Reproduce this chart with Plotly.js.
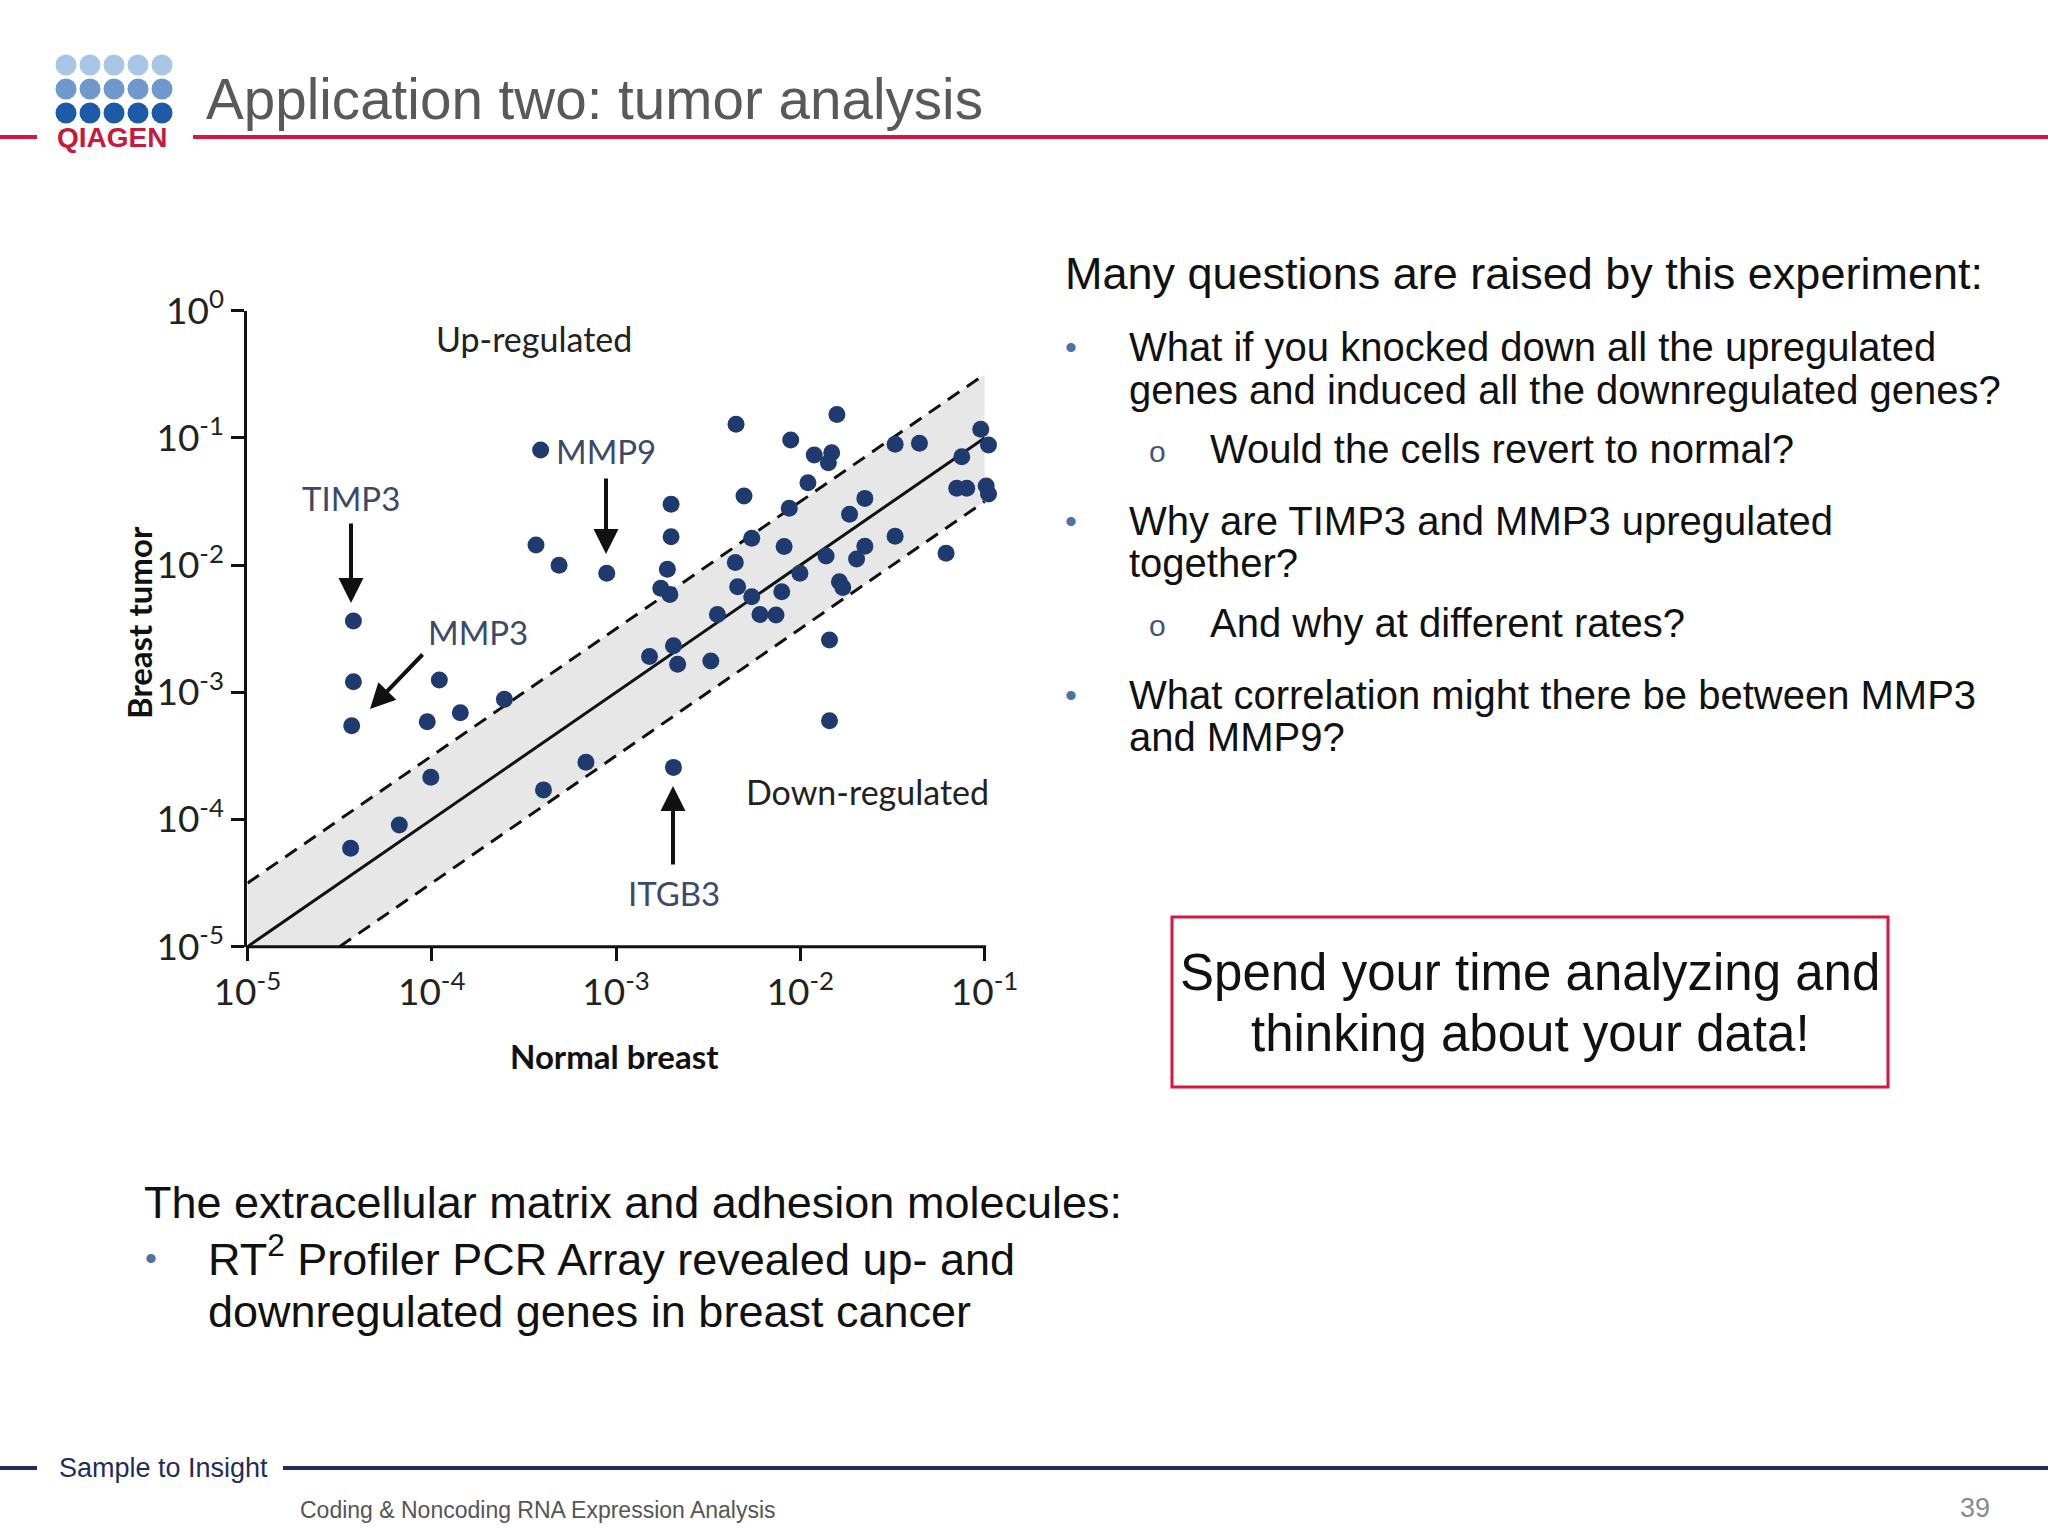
<!DOCTYPE html>
<html><head><meta charset="utf-8">
<script src="https://cdn.plot.ly/plotly-3.0.1.min.js"></script>
<style>html,body{margin:0;padding:0;background:#ffffff;} #chart{width:2048px;height:1536px;}</style>
</head><body><div id="chart"></div>
<script>
// ---- data (relative expression) ----
const normalBreast = [
  3.90e-4, 3.68e-4, 4.91e-4, 8.91e-4, 3.76e-5, 3.76e-5, 1.10e-4, 2.48e-4, 1.43e-4, 9.46e-5,
  3.68e-5, 9.89e-5, 6.87e-4, 4.04e-4, 6.67e-5, 3.63e-5,
  4.48e-3, 1.58e-2, 8.87e-3, 1.19e-2, 1.48e-2, 1.42e-2, 3.27e-2, 4.43e-2, 9.53e-2, 1.05e-1,
  7.52e-2, 7.06e-2, 8.00e-2, 1.02e-1, 1.05e-1, 1.10e-2, 1.99e-3, 4.95e-3, 8.71e-3, 2.24e-2,
  1.85e-2, 1.99e-3, 5.45e-3, 8.17e-3, 3.27e-2, 6.18e-2, 1.90e-3, 4.44e-3, 1.38e-2, 2.24e-2,
  2.02e-2, 1.75e-3, 1.96e-3, 4.57e-3, 5.45e-3, 7.93e-3, 9.95e-3, 1.63e-2, 1.70e-2, 3.55e-3,
  6.04e-3, 7.38e-3, 1.52e-3, 2.05e-3, 2.16e-3, 3.27e-3, 1.44e-2, 1.44e-2, 2.05e-3
];
const breastTumor = [
  8.04e-2, 1.44e-2, 1.00e-2, 8.63e-3, 3.64e-3, 1.21e-3, 1.25e-3, 8.81e-4, 6.92e-4, 5.87e-4,
  5.46e-4, 2.15e-4, 2.82e-4, 1.71e-4, 9.06e-5, 5.94e-5,
  1.28e-1, 1.53e-1, 9.62e-2, 7.35e-2, 7.66e-2, 6.38e-2, 8.91e-2, 9.08e-2, 1.17e-1, 8.79e-2,
  7.11e-2, 4.02e-2, 4.02e-2, 4.19e-2, 3.62e-2, 4.45e-2, 3.01e-2, 3.49e-2, 2.80e-2, 3.35e-2,
  2.51e-2, 1.67e-2, 1.63e-2, 1.40e-2, 1.69e-2, 1.24e-2, 9.27e-3, 1.05e-2, 1.18e-2, 1.41e-2,
  1.12e-2, 6.58e-3, 5.89e-3, 6.76e-3, 5.65e-3, 6.18e-3, 8.63e-3, 7.41e-3, 6.68e-3, 4.10e-3,
  4.10e-3, 4.06e-3, 1.91e-3, 2.32e-3, 1.66e-3, 1.76e-3, 2.58e-3, 5.98e-4, 2.57e-4
];
const xTickValues = [1e-5, 1e-4, 1e-3, 1e-2, 1e-1];
const xTickLabels = ['10<sup>-5</sup>', '10<sup>-4</sup>', '10<sup>-3</sup>', '10<sup>-2</sup>', '10<sup>-1</sup>'];
const yTickValues = [1e-5, 1e-4, 1e-3, 1e-2, 1e-1, 1];
const yTickLabels = ['10<sup>-5</sup>', '10<sup>-4</sup>', '10<sup>-3</sup>', '10<sup>-2</sup>', '10<sup>-1</sup>', '10<sup>0</sup>'];
const axisMin = 1e-5;
const axisMax = 1e-1;
const foldBand = 3.16;   // dashed limits: +/- half a decade

// ---- derived geometry ----
const W = 2048, H = 1536;
const px = x => x / W;
const py = y => 1 - y / H;
const chartFont = 'Lato, "Open Sans", sans-serif';
const slideFont = '"Liberation Sans", Arial, sans-serif';
const navy = '#1f3a6e';

// plot area: 10^-5..10^-1 spans x 247.4..984.6 px; range extended a little so edge points stay visible
const xLeft = 247.4, decadePx = 184.3, xRangeMax = -0.97;
const xRight = xLeft + (xRangeMax + 5) * decadePx;

const band = {
  x: [axisMin, axisMax, axisMax, axisMin * foldBand, axisMin, axisMin],
  y: [axisMin * foldBand, axisMax * foldBand, axisMax / foldBand, axisMin, axisMin, axisMin * foldBand],
  type: 'scatter', mode: 'lines', fill: 'toself', fillcolor: '#e7e7e7',
  line: {width: 0, color: 'rgba(0,0,0,0)'}, hoverinfo: 'skip', showlegend: false
};
const upper = {
  x: [axisMin, axisMax], y: [axisMin * foldBand, axisMax * foldBand],
  type: 'scatter', mode: 'lines', line: {color: '#111', width: 3, dash: '14px,9px'}, showlegend: false
};
const lower = {
  x: [axisMin * foldBand, axisMax], y: [axisMin, axisMax / foldBand],
  type: 'scatter', mode: 'lines', line: {color: '#111', width: 3, dash: '14px,9px'}, showlegend: false
};
const diag = {
  x: [axisMin, axisMax], y: [axisMin, axisMax],
  type: 'scatter', mode: 'lines', line: {color: '#111', width: 3}, showlegend: false
};
const pts = {
  x: normalBreast, y: breastTumor, type: 'scatter', mode: 'markers',
  marker: {color: navy, size: 17, line: {width: 0}}, cliponaxis: false, showlegend: false
};

function txt(text, x, y, size, color, extra) {
  return Object.assign({
    xref: 'paper', yref: 'paper', x: px(x), y: py(y), text: text, showarrow: false,
    xanchor: 'left', yanchor: 'middle', font: {family: slideFont, size: size, color: color}
  }, extra || {});
}
function chartTxt(text, x, y, size, color, extra) {
  return Object.assign(txt(text, x, y, size, color, {xanchor: 'center'}), {font: {family: chartFont, size: size, color: color}}, extra || {});
}
function arrow(hx, hy, tx, ty) {
  return {xref: 'paper', yref: 'paper', x: px(hx), y: py(hy), ax: tx - hx, ay: ty - hy,
    text: '', showarrow: true, arrowhead: 2, arrowsize: 1.25, arrowwidth: 4, arrowcolor: '#111', standoff: 0};
}

const labelColor = '#3c4a68';
const annotations = [
  // title
  txt('Application two: tumor analysis', 204, 100, 56.6, '#595959'),
  txt('<b>QIAGEN</b>', 112, 137, 28, '#c8193c', {xanchor: 'center'}),
  // chart labels
  chartTxt('Up-regulated', 534, 338, 34, '#222'),
  chartTxt('Down-regulated', 867, 791, 34, '#222'),
  chartTxt('TIMP3', 351, 498, 33, labelColor),
  chartTxt('MMP9', 606, 451, 33, labelColor),
  chartTxt('MMP3', 478, 632, 33, labelColor),
  chartTxt('ITGB3', 674, 893, 33, labelColor),
  chartTxt('<b>Normal breast</b>', 614, 1056, 33, '#111'),
  chartTxt('<b>Breast tumor</b>', 139, 623, 33, '#111', {textangle: -90}),
  arrow(351, 603, 351, 522),
  arrow(606, 554, 606, 477),
  arrow(370, 709, 424, 653),
  arrow(673, 786, 673, 866),
  // right text block
  txt('Many questions are raised by this experiment:', 1063, 273, 45, '#111'),
  txt('•', 1063, 347, 34, '#5070a8'),
  txt('What if you knocked down all the upregulated', 1127, 347, 40, '#111'),
  txt('genes and induced all the downregulated genes?', 1127, 390, 40, '#111'),
  txt('o', 1147, 452, 30, '#44577a'),
  txt('Would the cells revert to normal?', 1208, 449, 40, '#111'),
  txt('•', 1063, 521, 34, '#5070a8'),
  txt('Why are TIMP3 and MMP3 upregulated', 1127, 521, 40, '#111'),
  txt('together?', 1127, 563, 40, '#111'),
  txt('o', 1147, 626, 30, '#44577a'),
  txt('And why at different rates?', 1208, 623, 40, '#111'),
  txt('•', 1063, 695, 34, '#5070a8'),
  txt('What correlation might there be between MMP3', 1127, 695, 40, '#111'),
  txt('and MMP9?', 1127, 737, 40, '#111'),
  // boxed message
  txt('Spend your time analyzing and', 1530, 972, 51, '#111', {xanchor: 'center'}),
  txt('thinking about your data!', 1530, 1033, 51, '#111', {xanchor: 'center'}),
  // bottom text
  txt('The extracellular matrix and adhesion molecules:', 142, 1202, 45, '#111'),
  txt('•', 143, 1258, 34, '#5070a8'),
  txt('RT<sup>2</sup> Profiler PCR Array revealed up- and', 206, 1256, 45, '#111'),
  txt('downregulated genes in breast cancer', 206, 1311, 45, '#111'),
  // footer
  txt('Sample to Insight', 57, 1468, 27, '#1f2d5c'),
  txt('Coding &amp; Noncoding RNA Expression Analysis', 298, 1510, 23, '#555555'),
  txt('39', 1992, 1508, 27, '#8a8a8a', {xanchor: 'right'})
];

const shapes = [
  {type: 'line', xref: 'paper', yref: 'paper', x0: px(0), x1: px(37), y0: py(137), y1: py(137), line: {color: '#d6173f', width: 4}},
  {type: 'line', xref: 'paper', yref: 'paper', x0: px(193), x1: px(2048), y0: py(137), y1: py(137), line: {color: '#d6173f', width: 4}},
  {type: 'line', xref: 'paper', yref: 'paper', x0: px(0), x1: px(37), y0: py(1468), y1: py(1468), line: {color: '#1f2d5c', width: 4}},
  {type: 'line', xref: 'paper', yref: 'paper', x0: px(283), x1: px(2048), y0: py(1468), y1: py(1468), line: {color: '#1f2d5c', width: 4}},
  {type: 'rect', xref: 'paper', yref: 'paper', x0: px(1172), x1: px(1888), y0: py(917), y1: py(1087), line: {color: '#d6173f', width: 3}, fillcolor: 'rgba(0,0,0,0)'},
  // x axis line, ending at the 10^-1 tick
  {type: 'line', xref: 'paper', yref: 'paper', x0: px(xLeft - 1.5), x1: px(xLeft + 4 * decadePx + 1.5), y0: py(946.7), y1: py(946.7), line: {color: '#111', width: 3}}
];
// logo dots
const dotCols = [66, 90, 114, 138, 162];
const dotRows = [65, 89, 113];
const dotColors = ['#a9c6e6', '#6f98cf', '#1d5ba8'];
dotRows.forEach((cy, r) => dotCols.forEach(cx => shapes.push({
  type: 'circle', xref: 'paper', yref: 'paper', x0: px(cx - 10.5), x1: px(cx + 10.5), y0: py(cy + 10.5), y1: py(cy - 10.5),
  fillcolor: dotColors[r], line: {width: 0}
})));

const axisCommon = {
  type: 'log', showgrid: false, zeroline: false, showline: true, linecolor: '#111', linewidth: 3,
  ticks: 'outside', ticklen: 13, tickwidth: 3, tickcolor: '#111', automargin: false,
  tickfont: {family: chartFont, size: 37, color: '#222'}
};
const layout = {
  width: W, height: H, margin: {l: 0, r: 0, t: 0, b: 0},
  paper_bgcolor: '#ffffff', plot_bgcolor: 'rgba(0,0,0,0)', showlegend: false,
  xaxis: Object.assign({}, axisCommon, {showline: false, domain: [xLeft / W, xRight / W], range: [-5, xRangeMax], tickvals: xTickValues, ticktext: xTickLabels}),
  yaxis: Object.assign({}, axisCommon, {domain: [0.38366, 0.79766], range: [-5, 0], tickvals: yTickValues, ticktext: yTickLabels}),
  annotations: annotations, shapes: shapes
};
Plotly.newPlot('chart', [band, upper, lower, diag, pts], layout, {staticPlot: true});
</script></body></html>
